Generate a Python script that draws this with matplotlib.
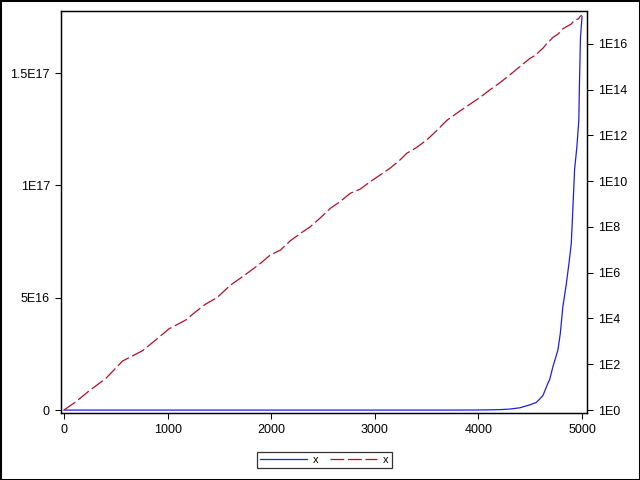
"""Random-walk series x drawn on a linear (left) and log (right) axis."""

import math

import matplotlib

matplotlib.use("Agg")
import matplotlib.pyplot as plt
from matplotlib.patches import Rectangle
from matplotlib.ticker import FixedLocator, FuncFormatter, NullLocator

plt.rcParams["font.family"] = ["Liberation Sans", "DejaVu Sans"]

# values
steps = [0, 115, 243, 404, 565, 757, 885, 1014, 1174, 1270, 1360, 1479,
         1607, 1736, 1832, 1896, 1992, 2089, 2185, 2281, 2377, 2474, 2570,
         2666, 2762, 2858, 2955, 3051, 3147, 3243, 3308, 3404, 3500, 3597,
         3693, 3821, 3917, 4013, 4110, 4206, 4302, 4398, 4495, 4559, 4591,
         4623, 4671, 4687, 4719, 4767, 4790, 4815, 4848, 4873, 4896, 4911,
         4928, 4950, 4969, 4975, 4985, 5000]
x_vals = [1.0, 2.3, 6.9, 24, 138, 389, 1.15e3, 3.55e3, 8.5e3, 1.95e4, 4.07e4,
          8.3e4, 2.88e5, 7.4e5, 1.55e6, 2.57e6, 6.0e6, 9.8e6, 2.5e7, 5.2e7,
          1.02e8, 2.5e8, 6.5e8, 1.29e9, 2.95e9, 4.5e9, 9.5e9, 1.86e10, 3.7e10,
          8.5e10, 1.66e11, 3.0e11, 6.3e11, 1.62e12, 4.5e12, 1.17e13, 2.3e13,
          4.5e13, 9.8e13, 2.0e14, 4.4e14, 1.0e15, 2.3e15, 3.4e15, 4.9e15,
          6.5e15, 1.2e16, 1.35e16, 1.93e16, 2.67e16, 3.4e16, 4.6e16, 5.6e16,
          6.5e16, 7.4e16, 8.9e16, 1.07e17, 1.17e17, 1.29e17, 1.45e17, 1.66e17,
          1.75e17]

left_ticks = [0, 5e16, 1e17, 1.5e17]
left_labels = ["0", "5E16", "1E17", "1.5E17"]
right_exps = [0, 2, 4, 6, 8, 10, 12, 14, 16]
x_ticks = [0, 1000, 2000, 3000, 4000, 5000]

BLUE = "#1e1ee6"
RED = "#b0102c"

fig = plt.figure(figsize=(6.4, 4.8), dpi=100)
ax = fig.add_axes([0.0953, 0.1396, 0.8219, 0.8375])
ax2 = ax.twinx()

l1, = ax.plot(steps, x_vals, color=BLUE, linewidth=0.9, label="x")
l2, = ax2.plot(steps, x_vals, color=RED, linewidth=0.9, dashes=(11, 3),
               label="x")

ax.set_xlim(-29, 5048)
ax.set_ylim(-1.3e15, 1.776e17)
ax2.set_yscale("log")
ax2.set_ylim(10 ** -0.13, 10 ** 17.44)

ax.xaxis.set_major_locator(FixedLocator(x_ticks))
ax.yaxis.set_major_locator(FixedLocator(left_ticks))
ax.yaxis.set_major_formatter(FuncFormatter(
    lambda v, pos: left_labels[left_ticks.index(v)] if v in left_ticks else ""))
ax2.yaxis.set_major_locator(FixedLocator([10.0 ** e for e in right_exps]))
ax2.yaxis.set_minor_locator(NullLocator())
ax2.yaxis.set_major_formatter(FuncFormatter(
    lambda v, pos: f"1E{round(math.log10(v))}"))

for a in (ax, ax2):
    a.tick_params(direction="out", length=4, width=0.75, labelsize=9,
                  colors="black", pad=4)
    for s in a.spines.values():
        s.set_linewidth(0.9)

leg = fig.legend(handles=[l1, l2], loc="center", ncol=2,
                 bbox_to_anchor=(0.507, 0.042), fontsize=8, frameon=True,
                 fancybox=False, handlelength=4.2, handletextpad=0.6,
                 columnspacing=1.0, borderpad=0.3)
leg.get_frame().set_edgecolor("black")
leg.get_frame().set_linewidth(0.9)

# outer frame around the whole picture
fig.patches.append(Rectangle((0, 0), 1, 1, transform=fig.transFigure,
                             fill=False, edgecolor="black", linewidth=2.2))

fig.savefig("out.png", dpi=100)
